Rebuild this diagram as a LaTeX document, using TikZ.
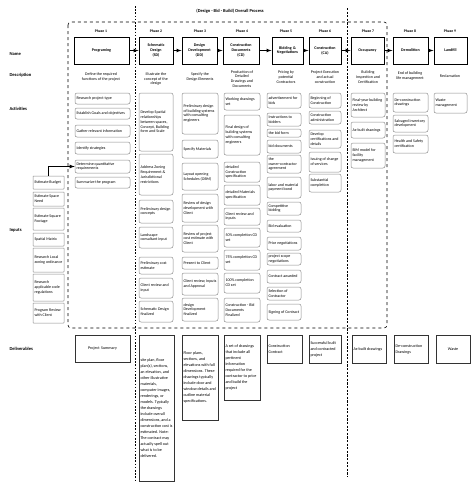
\documentclass[tikz,border=0pt]{standalone}
\usepackage{fontspec}
\setmainfont{Carlito}
\colorlet{boxgray}{black!45}

\tikzset{
  act/.style={draw=boxgray, rounded corners=2pt, line width=0.5pt, font=\fontsize{4}{4.8}\selectfont, align=flush left, inner sep=1pt},
  inbox/.style={act, rounded corners=0.5pt},
  deliv/.style={draw=black!80, line width=0.5pt, font=\fontsize{4.1}{6}\selectfont, align=flush left, inner sep=1pt},
  namebox/.style={draw, line width=1pt, font=\bfseries\fontsize{4}{4.8}\selectfont, align=center, inner sep=1pt},
  phase/.style={font=\bfseries\fontsize{3.8}{4}\selectfont},
  descr/.style={font=\fontsize{4}{4.8}\selectfont, align=center},
  rowlabel/.style={font=\bfseries\fontsize{4.6}{5}\selectfont, anchor=west},
}

% box from left/right/top/bottom (px)
\newcommand{\abox}[7][act]{%
  \pgfmathsetmacro\bw{#4-#3}\pgfmathsetmacro\bh{#6-#5}\pgfmathsetmacro\tw{#4-#3-3}%
  \node[#1, minimum width=\bw pt, minimum height=\bh pt, text width=\tw pt] (#2) at ({(#3+#4)/2},{(#5+#6)/2}) {#7};}

\begin{document}
\begin{tikzpicture}[x=1pt,y=-1pt]
  \useasboundingbox (0,0) rectangle (474,483);

  \node[font=\bfseries\fontsize{4.5}{5}\selectfont] (title) at (230,11) {(Design - Bid - Build) Overall Process};

  % frames
  \draw[dash pattern=on 3pt off 3pt, line width=0.6pt, rounded corners=3pt] (68,22) rectangle (387,328);
  \draw[dash pattern=on 1.6pt off 1.6pt, line width=0.7pt] (135,6) -- (135,480);
  \draw[dash pattern=on 2.2pt off 1.4pt, line width=0.8pt] (347,8) -- (347,477);

  % row labels
  \node[rowlabel] (lname) at (6,54) {Name};
  \node[rowlabel] (ldesc) at (6,75) {Description};
  \node[rowlabel] (lact) at (6,109) {Activities};
  \node[rowlabel] (linp) at (6,230) {Inputs};
  \node[rowlabel] (ldel) at (6,349) {Deliverables};

  \foreach \n/\x in {1/101,2/156,3/200,4/242,5/286,6/325,7/368,8/410,9/450}
    \node[phase] (ph\n) at (\x,31) {Phase \n};

  % names
  \abox[namebox]{prog}{74}{129}{37}{64}{Programing}
  \abox[namebox]{sd}{139}{173}{37}{64}{Schematic\\Design\\(SD)}
  \abox[namebox]{dd}{182}{217}{37}{64}{Design\\Development\\(DD)}
  \abox[namebox]{cd}{223}{259}{37}{64}{Construction\\Documents\\(CD)}
  \abox[namebox]{bid}{272}{303}{37}{64}{Bidding \&\\Negotiations}
  \abox[namebox]{ca}{309}{341}{37}{64}{Construction\\(CA)}
  \abox[namebox]{occ}{351}{384}{37}{64}{Occupancy}
  \abox[namebox]{dem}{393}{428}{37}{64}{Demolition}
  \abox[namebox]{land}{434}{467}{37}{64}{Landfill}
  \foreach \a/\b in {prog/sd,sd/dd,dd/cd,cd/bid,bid/ca,ca/occ,occ/dem,dem/land}
    \draw[-latex, line width=0.7pt] (\a) -- (\b);

  % descriptions
  \node[descr] (d1) at (101,77) {Define the required\\functions of the project};
  \node[descr] (d2) at (156,79) {Illustrate the\\concept of the\\design};
  \node[descr] (d3) at (200,77) {Specify the\\Design Elements};
  \node[descr] (d4) at (242,79) {Production of\\Detailed\\Drawings and\\Documents};
  \node[descr] (d5) at (286,77) {Pricing by\\potential\\Contractors};
  \node[descr] (d6) at (325,77) {Project Execution\\and actual\\construction};
  \node[descr] (d7) at (368,77) {Building\\Inspection and\\Certification};
  \node[descr] (d8) at (410,76) {End of building\\life management};
  \node[descr] (d9) at (450,76) {Reclamation};

  % phase 1
  \abox{p1a}{75}{130}{93}{104}{Research project type}
  \abox{p1b}{75}{130}{108}{119}{Establish Goals and objectives}
  \abox{p1c}{75}{130}{125}{137}{Gather relevant information}
  \abox{p1d}{75}{130}{142}{154}{Identify strategies}
  \abox{p1e}{75}{130}{160}{173}{Determine quantitative requirements}
  \abox{p1f}{75}{130}{177}{188}{Summarize the program}

  % inputs
  \abox[inbox]{in1}{33}{64}{176}{189}{Estimate Budget}
  \abox[inbox]{in2}{33}{64}{192}{206}{Estimate Space Need}
  \abox[inbox]{in3}{33}{64}{208}{230}{Estimate Square Footage}
  \abox[inbox]{in4}{33}{64}{233}{246}{Spatial Matrix}
  \abox[inbox]{in5}{33}{64}{248}{272}{Research Local zoning ordinance}
  \abox[inbox]{in6}{33}{64}{274}{301}{Research applicable code regulations}
  \abox[inbox]{in7}{33}{64}{303}{323}{Program Review with Client}
  \draw[-latex, line width=0.8pt] (in1.north) |- (p1e.west);

  % phase 2
  \abox{p2a}{139}{173}{93}{151}{Develop Spatial relationships between spaces, Concept, Building form and Scale}
  \abox{p2b}{139}{173}{154}{195}{Address Zoning Requirement \& Jurisdictional restrictions}
  \abox{p2c}{139}{173}{200}{223}{Preliminary design concepts}
  \abox{p2d}{139}{173}{227}{248}{Landscape consultant input}
  \abox{p2e}{139}{173}{257}{274}{Preliminary cost estimate}
  \abox{p2f}{139}{173}{278}{298}{Client review and input}
  \abox{p2g}{139}{173}{301}{322}{Schematic Design finalized}

  % phase 3
  \abox{p3a}{182}{218}{93}{134}{Preliminary design of building systems with consulting engineers}
  \abox{p3b}{182}{218}{140}{158}{Specify Materials}
  \abox{p3c}{182}{218}{163}{190}{Layout opening Schedules (OBM)}
  \abox{p3d}{182}{218}{194}{222}{Review of design development with Client}
  \abox{p3e}{182}{218}{225}{252}{Review of project cost estimate with Client}
  \abox{p3f}{182}{218}{257}{269}{Present to Client}
  \abox{p3g}{182}{218}{273}{295}{Client review, Inputs and Approval}
  \abox{p3h}{182}{218}{298}{321}{design Development finalized}

  % phase 4
  \abox{p4a}{224}{260}{93}{110}{Working drawings set}
  \abox{p4b}{224}{260}{115}{155}{Final design of building systems with consulting engineers}
  \abox{p4c}{224}{260}{162}{182}{detailed Construction specification}
  \abox{p4d}{224}{260}{185}{205}{detailed Materials specification}
  \abox{p4e}{224}{260}{208}{225}{Client review and inputs}
  \abox{p4f}{224}{260}{228}{247}{50\% completion CD set}
  \abox{p4g}{224}{260}{250}{270}{75\% completion CD set}
  \abox{p4h}{224}{260}{273}{293}{100\% completion CD set}
  \abox{p4i}{224}{260}{298}{322}{Construction - Bid Documents Finalized}

  % phase 5
  \abox{p5a}{267}{301}{93}{108}{advertisement for bids}
  \abox{p5b}{267}{301}{113}{126}{Instructions to bidders}
  \abox{p5c}{267}{301}{129}{137}{the bid form}
  \abox{p5d}{267}{301}{140}{153}{bid documents}
  \abox{p5e}{267}{301}{155}{173}{the owner-contractor agreement}
  \abox{p5f}{267}{301}{177}{198}{labor and material payment bond}
  \abox{p5g}{267}{301}{202}{215}{Competitive bidding}
  \abox{p5h}{267}{301}{220}{232}{Bid evaluation}
  \abox{p5i}{267}{301}{237}{250}{Prior negotiations}
  \abox{p5j}{267}{301}{253}{265}{project scope negotiations}
  \abox{p5k}{267}{301}{270}{283}{Contract awarded}
  \abox{p5l}{267}{301}{287}{300}{Selection of Contractor}
  \abox{p5m}{267}{301}{304}{320}{Signing of Contract}

  % phase 6
  \abox{p6a}{309}{341}{93}{108}{Beginning of Construction}
  \abox{p6b}{309}{341}{111}{124}{Construction administration}
  \abox{p6c}{309}{341}{130}{148}{Develop certifications and details}
  \abox{p6d}{309}{341}{152}{172}{Issuing of change of services}
  \abox{p6e}{309}{341}{174}{192}{Substantial completion}

  % phase 7-9
  \abox{p7a}{351}{385}{93}{117}{Final-year building review by Architect}
  \abox{p7b}{351}{385}{122}{138}{As-built drawings}
  \abox{p7c}{351}{385}{143}{168}{BIM model for facility management}
  \abox{p8a}{393}{428}{93}{112}{De-construction drawings}
  \abox{p8b}{393}{428}{115}{132}{Salvaged inventory development}
  \abox{p8c}{393}{428}{135}{153}{Health and Safety certification}
  \abox{p9a}{434}{467}{93}{113}{Waste management}

  % deliverables
  \abox[deliv,align=center]{del1}{75}{130}{335}{362}{Project Summary}
  \abox[deliv]{del2}{139}{174}{335}{481}{site plan, floor plan(s), sections, an elevation, and other illustrative materials, computer images, renderings, or models. Typically the drawings include overall dimensions, and a construction cost is estimated. Note: The contract may actually spell out what is to be delivered.}
  \abox[deliv]{del3}{182}{218}{335}{420}{Floor plans, sections, and elevations with full dimensions. These drawings typically include door and window details and outline material specifications.}
  \abox[deliv]{del4}{224}{260}{335}{400}{A set of drawings that include all pertinent information required for the contractor to price and build the project}
  \abox[deliv]{del5}{267}{302}{335}{363}{Construction Contract}
  \abox[deliv]{del6}{309}{341}{335}{363}{Successful built and contracted project}
  \abox[deliv]{del7}{352}{386}{335}{363}{As-built drawings}
  \abox[deliv]{del8}{394}{428}{335}{363}{De-construction Drawings}
  \abox[deliv,align=center]{del9}{436}{470}{335}{363}{Waste}
\end{tikzpicture}
\end{document}
